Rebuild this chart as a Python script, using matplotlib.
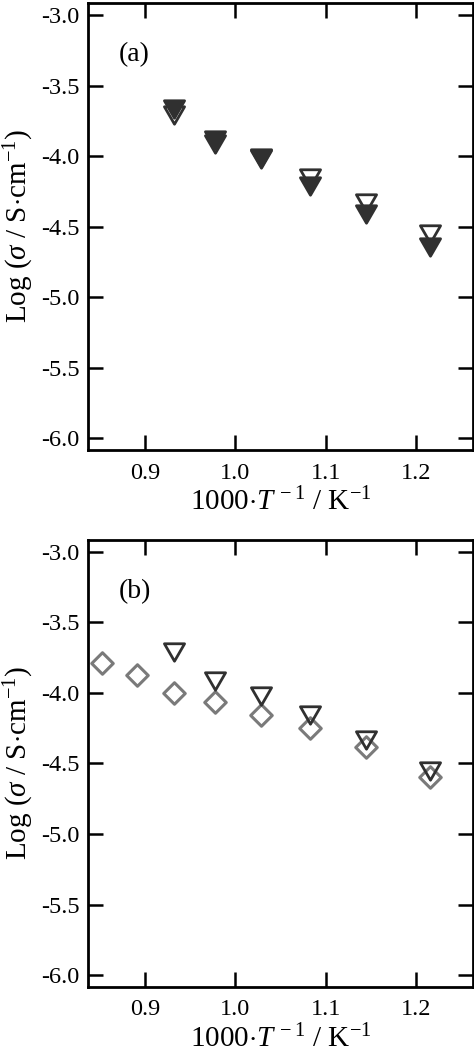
import numpy as np
import matplotlib
matplotlib.use('Agg')
import matplotlib.pyplot as plt
from matplotlib.path import Path
from matplotlib.ticker import FormatStrFormatter

plt.rcParams['font.family'] = 'Liberation Serif'
plt.rcParams['mathtext.fontset'] = 'custom'
plt.rcParams['mathtext.rm'] = 'Liberation Serif'
plt.rcParams['mathtext.it'] = 'Liberation Serif:italic'
plt.rcParams['axes.unicode_minus'] = False

# 1000/T values (K^-1)
inv_T = [0.932, 0.977, 1.028, 1.083, 1.145, 1.215]
inv_T_diamond = [0.852, 0.891, 0.932, 0.977, 1.028, 1.083, 1.145, 1.215]

# log conductivity
logsig_filled = [-3.667, -3.888, -4.015, -4.213, -4.41, -4.642]
logsig_open = [-3.709, -3.914, -4.023, -4.153, -4.335, -4.55]
logsig_diamond = [-3.787, -3.869, -4.0, -4.067, -4.157, -4.245, -4.382, -4.595]

dark = '#303030'
grey = '#7a7a7a'

# equilateral down triangle and diamond, centred on their bounding box
tri = Path([(-1, 0.866), (1, 0.866), (0, -0.866), (-1, 0.866)], closed=True)
dia = Path([(0, 1), (1, 0), (0, -1), (-1, 0), (0, 1)], closed=True)


def style(ax, tag):
    ax.set_xlim(0.837, 1.263)
    ax.set_ylim(-6.085, -2.915)
    ax.set_xticks([0.9, 1.0, 1.1, 1.2])
    ax.set_yticks(np.arange(-6.0, -2.9, 0.5))
    ax.xaxis.set_major_formatter(FormatStrFormatter('%.1f'))
    ax.yaxis.set_major_formatter(FormatStrFormatter('%.1f'))
    ax.tick_params(direction='in', top=True, right=True, length=11, width=1.8,
                   labelsize=17.5, pad=6)
    ax.tick_params(axis='x', pad=9)
    for s in ax.spines.values():
        s.set_linewidth(2)
    ax.set_ylabel(r'Log ($\sigma$ / S$\cdot$cm$^{-1}$)', fontsize=21)
    ax.yaxis.set_label_coords(-0.135, 0.5)
    ax.set_xlabel(r'1000$\cdot$$T^{\,-1}$ / K$^{-1}$', fontsize=21)
    ax.xaxis.set_label_coords(0.5, -0.085)
    ax.text(0.08, 0.87, tag, transform=ax.transAxes, fontsize=20)


fig = plt.figure(figsize=(4.74, 10.51), dpi=100)

ax1 = fig.add_axes([0.1857, 0.5718, 0.812, 0.4253])
ax1.plot(inv_T, logsig_filled, ls='none', marker=tri, ms=14.5, mfc=dark, mec=dark, mew=2)
ax1.plot(inv_T, logsig_open, ls='none', marker=tri, ms=14.5, mfc='none', mec=dark, mew=2)
style(ax1, '(a)')

ax2 = fig.add_axes([0.1857, 0.0609, 0.812, 0.4253])
ax2.plot(inv_T_diamond, logsig_diamond, ls='none', marker=dia, ms=15.5, mfc='none', mec=grey, mew=2.2)
ax2.plot(inv_T, logsig_open, ls='none', marker=tri, ms=14.5, mfc='none', mec=dark, mew=2)
style(ax2, '(b)')

plt.savefig('out.png', dpi=100)
